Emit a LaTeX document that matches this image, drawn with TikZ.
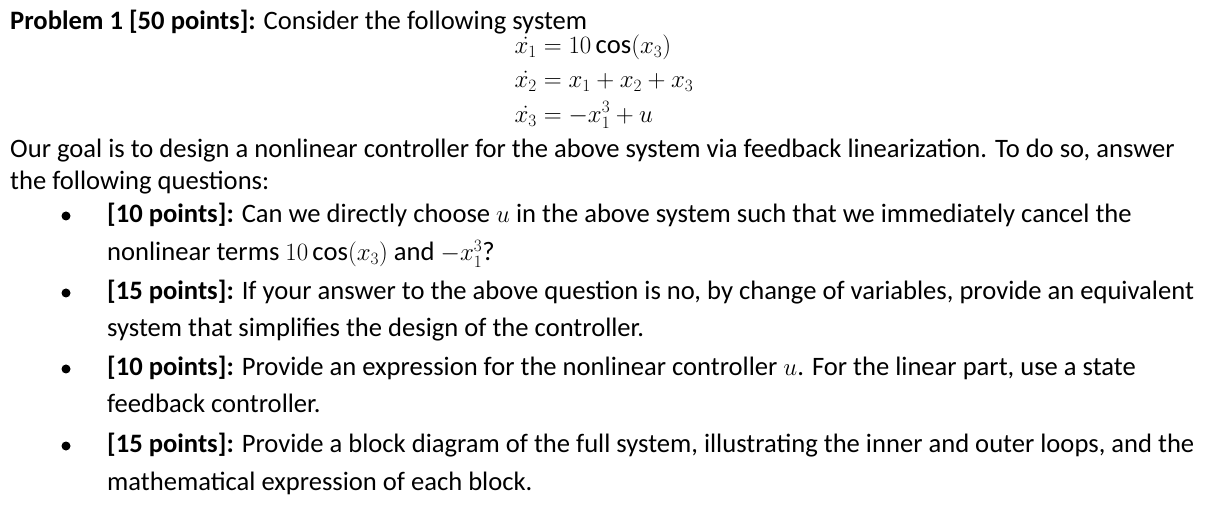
\documentclass[tikz,border=0pt]{standalone}
\usepackage{amsmath}
\usepackage{fontspec}
\setmainfont{Carlito}
\begin{document}
\begin{tikzpicture}[x=1pt,y=-1pt,
  t/.style={anchor=base west,inner sep=0pt,font=\fontsize{26.6}{30}\selectfont},
  bul/.style={circle,fill=black,inner sep=0pt,minimum size=9pt}]
\useasboundingbox (0,0) rectangle (1226,510);
\node[t] (title) at (10,30) {\textbf{Problem 1 [50 points]:} Consider the following system};
\node[t,anchor=center] (eqs) at (604,82) {\setlength\jot{4pt}$\begin{aligned}\dot{x_1}&=10\cos(x_3)\\ \dot{x_2}&=x_1+x_2+x_3\\ \dot{x_3}&=-x_1^3+u\end{aligned}$};
\node[t] (p1) at (10,158) {Our goal is to design a nonlinear controller for the above system via feedback linearization. To do so, answer};
\node[t] (p2) at (10,190) {the following questions:};
\node[bul] (b1) at (66,216) {};
\node[t] (l1a) at (107,223) {\textbf{[10 points]:} Can we directly choose $u$ in the above system such that we immediately cancel the};
\node[t] (l1b) at (107,261) {nonlinear terms $10\cos(x_3)$ and $-x_1^3$?};
\node[bul] (b2) at (66,293) {};
\node[t] (l2a) at (107,300) {\textbf{[15 points]:} If your answer to the above question is no, by change of variables, provide an equivalent};
\node[t] (l2b) at (107,337) {system that simplifies the design of the controller.};
\node[bul] (b3) at (66,369) {};
\node[t] (l3a) at (107,376) {\textbf{[10 points]:} Provide an expression for the nonlinear controller $u$. For the linear part, use a state};
\node[t] (l3b) at (107,413) {feedback controller.};
\node[bul] (b4) at (66,446) {};
\node[t] (l4a) at (107,452) {\textbf{[15 points]:} Provide a block diagram of the full system, illustrating the inner and outer loops, and the};
\node[t] (l4b) at (107,490) {mathematical expression of each block.};
\end{tikzpicture}
\end{document}
